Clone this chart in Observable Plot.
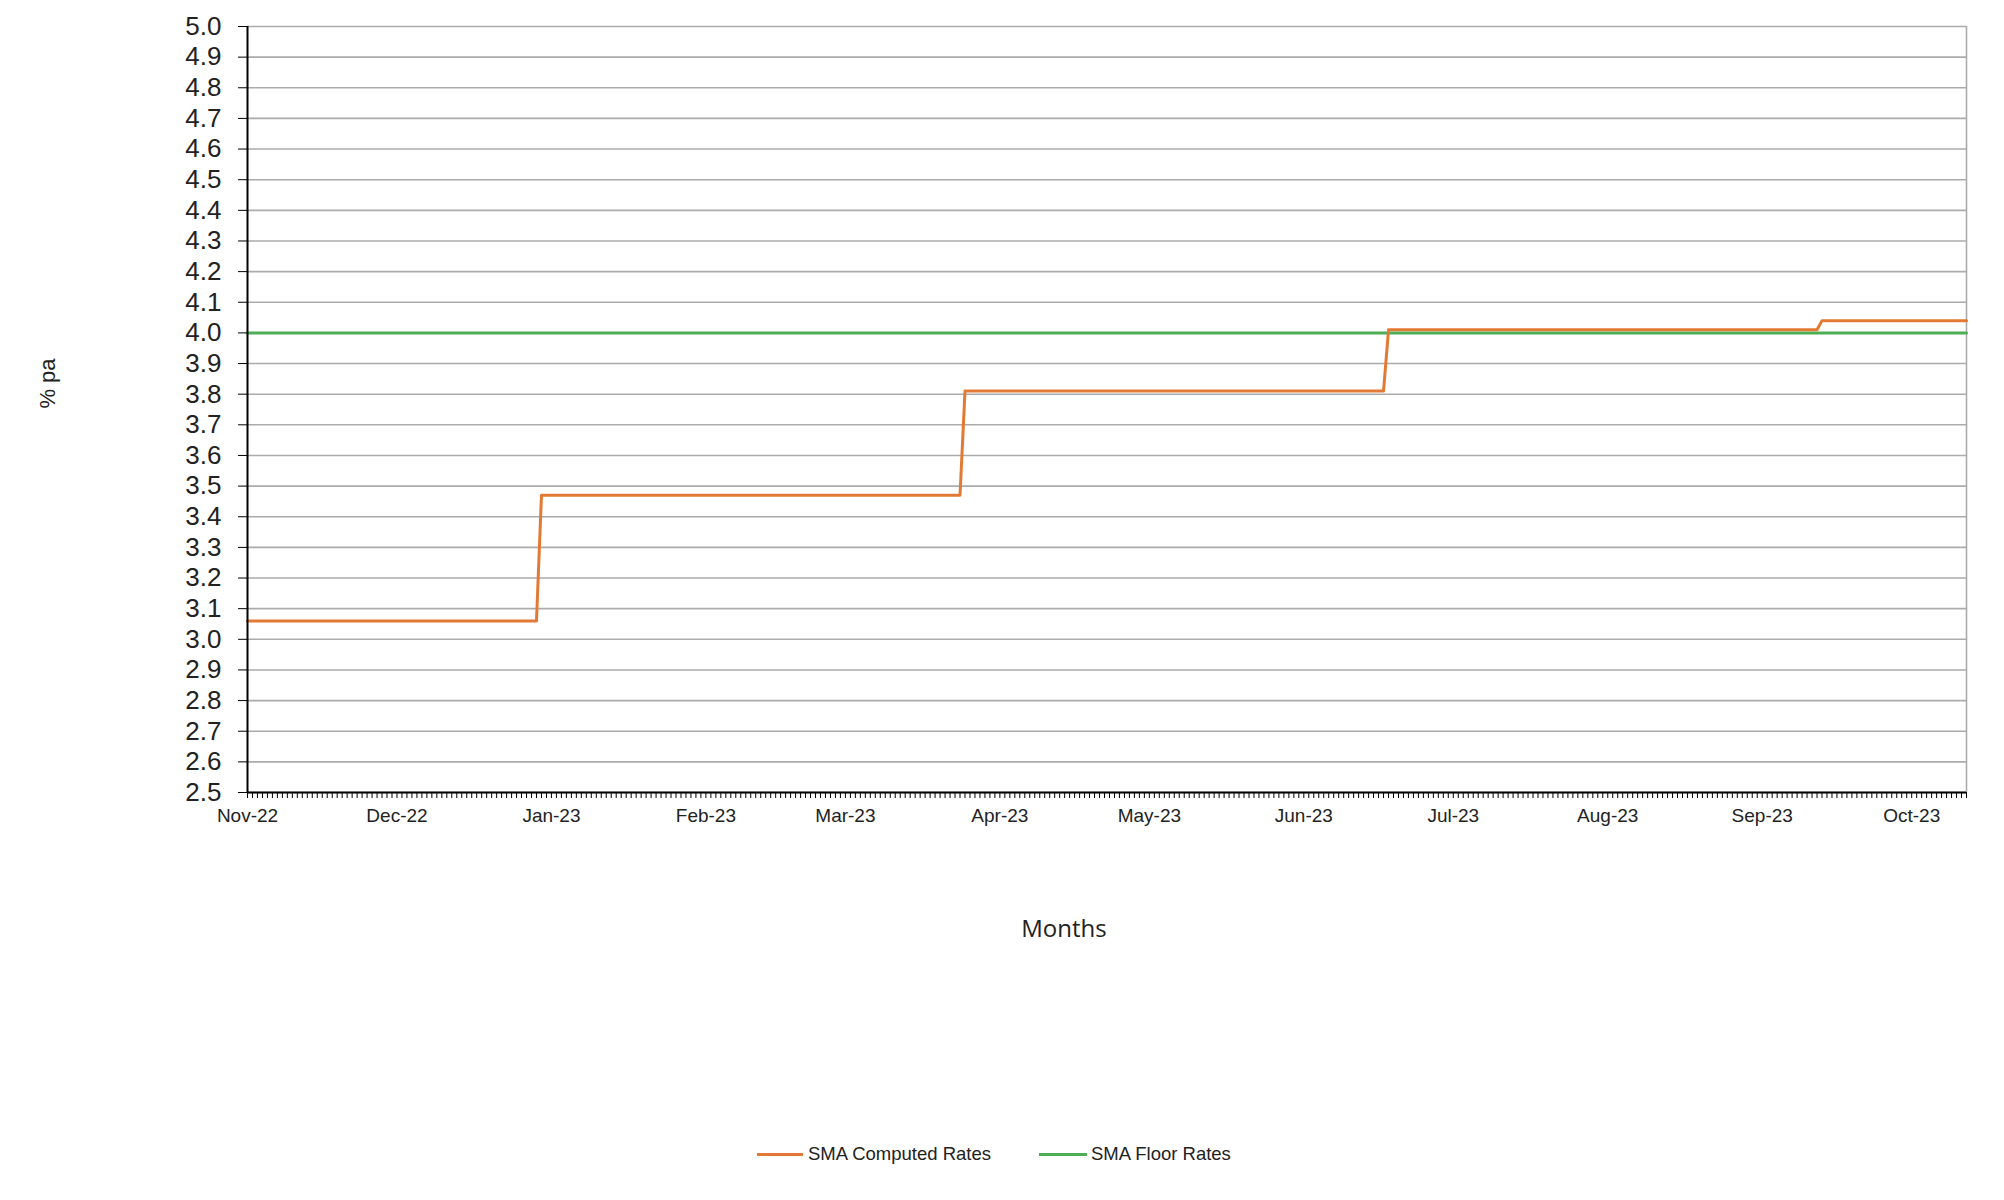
<!DOCTYPE html>
<html>
<head>
<meta charset="utf-8">
<script src="https://cdn.jsdelivr.net/npm/d3@7"></script>
<script src="https://cdn.jsdelivr.net/npm/@observablehq/plot@0.6"></script>
<style>
  html, body { margin: 0; padding: 0; background: #fff; }
  #chart svg { display: block; }
  .legend { height: 48px; display: flex; align-items: center; padding-left: 757px;
            font-family: "Liberation Sans", Arial, sans-serif; font-size: 18.5px; color: #222; }
  .sw { display: inline-block; width: 46px; height: 3px; margin-right: 5px; }
  .item { display: flex; align-items: center; }
</style>
</head>
<body>
<div id="chart"></div>
<div class="legend">
  <span class="item"><span class="sw" style="background:#e27a35"></span><span id="l1"></span></span>
  <span class="item" style="margin-left:48px"><span class="sw" style="background:#4dae55;width:48px;margin-right:4px"></span><span id="l2"></span></span>
</div>
<script>
// ---- data ----
const seriesNames = ["SMA Computed Rates", "SMA Floor Rates"];
const computedDates = ["2022-11-01", "2022-12-29", "2022-12-30", "2023-03-24", "2023-03-25",
                       "2023-06-17", "2023-06-18", "2023-09-12", "2023-09-13", "2023-10-12"];
const computedValues = [3.06, 3.06, 3.47, 3.47, 3.81, 3.81, 4.01, 4.01, 4.04, 4.04];
const floorDates = ["2022-11-01", "2023-10-12"];
const floorValues = [4.0, 4.0];
const yTicks = [2.5, 2.6, 2.7, 2.8, 2.9, 3.0, 3.1, 3.2, 3.3, 3.4, 3.5, 3.6, 3.7, 3.8, 3.9,
                4.0, 4.1, 4.2, 4.3, 4.4, 4.5, 4.6, 4.7, 4.8, 4.9, 5.0];
const xStart = "2022-11-01";
const xEnd = "2023-10-12";
const xTitle = "Months";
const yTitle = "% pa";

// ---- build ----
const start = new Date(xStart + "T00:00:00Z");
const end = new Date(xEnd + "T00:00:00Z");
const computed = computedDates.map((d, i) => ({date: new Date(d + "T00:00:00Z"), value: computedValues[i]}));
const floor = floorDates.map((d, i) => ({date: new Date(d + "T00:00:00Z"), value: floorValues[i]}));
const months = d3.utcMonth.range(start, end);
const days = d3.utcDay.range(start, d3.utcDay.offset(end, 1));

document.getElementById("l1").textContent = seriesNames[0];
document.getElementById("l2").textContent = seriesNames[1];

const H = 1130;
const chart = Plot.plot({
  width: 2004,
  height: H,
  marginLeft: 247,
  marginRight: 38,
  marginTop: 26,
  marginBottom: H - 792,
  style: {fontFamily: "'Liberation Sans', Arial, sans-serif", color: "#222", background: "#fff"},
  x: {type: "utc", domain: [start, end]},
  y: {domain: [2.5, 5.0]},
  marks: [
    Plot.gridY(yTicks, {stroke: "#ababab", strokeOpacity: 1, strokeWidth: 1.6}),
    Plot.ruleX([end], {stroke: "#ababab", strokeWidth: 1.6}),
    Plot.line(floor, {x: "date", y: "value", stroke: "#4dae55", strokeWidth: 3}),
    Plot.line(computed, {x: "date", y: "value", stroke: "#e27a35", strokeWidth: 3}),
    Plot.axisY(yTicks, {tickSize: 9, tickPadding: 17, tickFormat: d3.format(".1f"), fontSize: 26, label: null, stroke: "#000"}),
    Plot.axisX(days, {tickSize: 6, tickFormat: () => "", label: null, stroke: "#000"}),
    Plot.axisX(months, {tickSize: 0, tickPadding: 16, tickFormat: d3.utcFormat("%b-%y"), fontSize: 19, label: null}),
    Plot.ruleX([start], {stroke: "#000", strokeWidth: 2}),
    Plot.ruleY([2.5], {stroke: "#000", strokeWidth: 2}),
    Plot.text([yTitle], {text: d => d, frameAnchor: "left", textAnchor: "middle", lineAnchor: "middle", dx: -200, dy: -26, rotate: -90, fontSize: 22, fill: "#222"}),
    Plot.text([xTitle], {text: d => d, frameAnchor: "bottom", lineAnchor: "middle", dx: -43, dy: 137, fontSize: 24, fontFamily: "'Open Sans', sans-serif", fill: "#222"})
  ]
});
document.getElementById("chart").appendChild(chart);
</script>
</body>
</html>
